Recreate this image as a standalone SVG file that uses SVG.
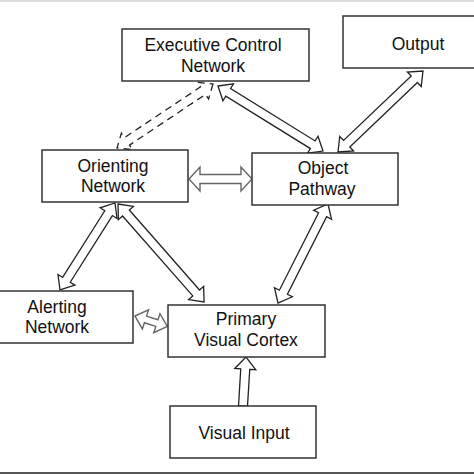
<svg xmlns="http://www.w3.org/2000/svg" width="474" height="474" viewBox="0 0 474 474">
<style>
.box{fill:#fff;stroke:#333;stroke-width:1.5}
.t{font-family:"Liberation Sans",Arial,sans-serif;font-size:17.5px;fill:#111;text-anchor:middle}
.ar{fill:#fff;stroke:#222;stroke-width:1.3;stroke-linejoin:miter}
.dash{fill:none;stroke:#222;stroke-width:1.3;stroke-dasharray:7,5}
.gray{fill:#fff;stroke:#666;stroke-width:1.4}
</style>
<rect x="0" y="0" width="474" height="474" fill="#fff"/>
<rect x="0" y="0" width="474" height="2" fill="#ddd"/>
<rect x="0" y="472" width="474" height="2" fill="#555"/>
<g id="connectors">
<polygon class="ar" transform="translate(218,86) rotate(31.8)" points="0,0 12,-10 12,-4.5 111.5,-4.5 111.5,-10 123.5,0 111.5,10 111.5,4.5 12,4.5 12,10"/>
<polygon class="ar" transform="translate(423,71) rotate(136.4)" points="0,0 12,-10 12,-4.5 105.4,-4.5 105.4,-10 117.4,0 105.4,10 105.4,4.5 12,4.5 12,10"/>
<polygon class="gray" transform="translate(189,179)" points="0,0 11,-12 11,-4.5 52,-4.5 52,-12 63,0 52,12 52,4.5 11,4.5 11,12"/>
<polygon class="dash" transform="translate(213,84) rotate(146.3)" points="0,0 12,-10 12,-4.5 103.4,-4.5 103.4,-10 115.4,0 103.4,10 103.4,4.5 12,4.5 12,10"/>
<polygon class="ar" transform="translate(115,203) rotate(122.3)" points="0,0 12,-10 12,-4.5 90.9,-4.5 90.9,-10 102.9,0 90.9,10 90.9,4.5 12,4.5 12,10"/>
<polygon class="ar" transform="translate(118,204) rotate(48.7)" points="0,0 12,-10 12,-4.5 118.4,-4.5 118.4,-10 130.4,0 118.4,10 118.4,4.5 12,4.5 12,10"/>
<polygon class="ar" transform="translate(328,204) rotate(116.8)" points="0,0 12,-10 12,-4.5 98.9,-4.5 98.9,-10 110.9,0 98.9,10 98.9,4.5 12,4.5 12,10"/>
<polygon class="gray" transform="translate(135,316) rotate(18)" points="0,0 11,-10 11,-3.5 23,-3.5 23,-10 34,0 23,10 23,3.5 11,3.5 11,10"/>
<polygon class="ar" transform="translate(243,406) rotate(-86.5)" points="0,-4.5 37,-4.5 37,-10.5 49,0 37,10.5 37,4.5 0,4.5"/>
</g>
<g id="exec"><rect class="box" x="122" y="29" width="187" height="52"/><text class="t" x="213" y="51">Executive Control</text><text class="t" x="213" y="72">Network</text></g>
<g id="output"><rect class="box" x="343" y="16" width="135" height="52"/><text class="t" x="418" y="50">Output</text></g>
<g id="orienting"><rect class="box" x="42" y="150" width="146" height="52"/><text class="t" x="113" y="172">Orienting</text><text class="t" x="113" y="192">Network</text></g>
<g id="object"><rect class="box" x="252" y="153" width="146" height="52"/><text class="t" x="323" y="174">Object</text><text class="t" x="322" y="195">Pathway</text></g>
<g id="alerting"><rect class="box" x="-2" y="291" width="135" height="52"/><text class="t" x="57" y="313">Alerting</text><text class="t" x="57" y="333">Network</text></g>
<g id="primary"><rect class="box" x="168" y="305" width="157" height="52"/><text class="t" x="246" y="325">Primary</text><text class="t" x="246" y="346">Visual Cortex</text></g>
<g id="visualinput"><rect class="box" x="170" y="406" width="146" height="52"/><text class="t" x="244" y="439">Visual Input</text></g>
</svg>
